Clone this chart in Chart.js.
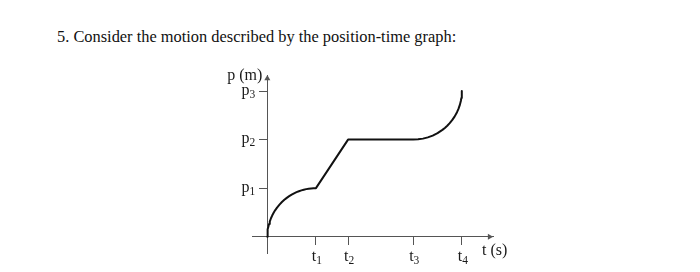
<!DOCTYPE html>
<html>
<head>
<meta charset="utf-8">
<script src="https://cdn.jsdelivr.net/npm/chart.js@4.4.0/dist/chart.umd.min.js"></script>
<style>
  html, body { margin: 0; padding: 0; background: #fff; }
  #wrap { position: relative; width: 700px; height: 272px; }
  #title { position: absolute; left: 57px; top: 27px; font-family: "Liberation Serif", "DejaVu Serif", serif; font-size: 16.4px; color: #111; white-space: nowrap; }
  canvas { position: absolute; left: 0; top: 0; }
</style>
</head>
<body>
<div id="wrap">
  <div id="title">5. Consider the motion described by the position-time graph:</div>
  <canvas id="c" width="700" height="272"></canvas>
</div>
<script>
// ---- data ----
const tTicks  = [1, 1.66, 3, 4];
const tLabels = [['t', '1'], ['t', '2'], ['t', '3'], ['t', '4']];
const pTicks  = [1, 2, 3];
const pLabels = [['p', '1'], ['p', '2'], ['p', '3']];
const xAxisTitle = 't (s)';
const yAxisTitle = 'p (m)';
const timeValues = [0, 0.002, 0.005, 0.012, 0.02, 0.035, 0.05, 0.075, 0.1, 0.13, 0.16, 0.2, 0.25, 0.3, 0.35, 0.4, 0.45, 0.5, 0.55, 0.6, 0.65, 0.7, 0.75, 0.8, 0.85, 0.9, 0.95, 1,
                    1.66,
                    3, 3.1, 3.2, 3.3, 3.4, 3.5, 3.6, 3.65, 3.7, 3.75, 3.8, 3.85, 3.9, 3.93, 3.96, 3.98, 3.99, 3.997, 4];
const positionValues = [0, 0.063, 0.1, 0.154, 0.199, 0.262, 0.312, 0.38, 0.436, 0.493, 0.543, 0.6, 0.661, 0.714, 0.76, 0.8, 0.835, 0.866, 0.893, 0.917, 0.937, 0.954, 0.968, 0.98, 0.989, 0.995, 0.999, 1,
                        2,
                        2, 2.005, 2.02, 2.046, 2.083, 2.134, 2.2, 2.24, 2.286, 2.339, 2.4, 2.473, 2.564, 2.632, 2.72, 2.801, 2.859, 2.923, 3];
const tRange = [-0.315, 4.64];
const pRange = [-0.335, 3.33];
// --------------------------------------

const SERIF = '"Liberation Serif", "DejaVu Serif", serif';
const AXIS_COLOR = '#555';
const TEXT_COLOR = '#1a1a1a';

const curve = timeValues.map((t, i) => ({ x: t, y: positionValues[i] }));

function drawSubLabel(ctx, parts, x, baseline, align) {
  const bigFont = '16px ' + SERIF, smallFont = '11.5px ' + SERIF;
  ctx.font = bigFont;
  const wl = ctx.measureText(parts[0]).width;
  ctx.font = smallFont;
  const wd = ctx.measureText(parts[1]).width;
  const total = wl + wd;
  const start = align === 'center' ? x - total / 2 : x - total;
  ctx.textAlign = 'left';
  ctx.textBaseline = 'alphabetic';
  ctx.font = bigFont;
  ctx.fillText(parts[0], start, baseline);
  ctx.font = smallFont;
  ctx.fillText(parts[1], start + wl, baseline + 3);
}

const axisText = {
  id: 'axisText',
  afterDraw(chart) {
    const { ctx, scales: { x, y } } = chart;
    const x0 = x.getPixelForValue(0), y0 = y.getPixelForValue(0);
    ctx.save();
    ctx.fillStyle = TEXT_COLOR;
    // tick labels with subscripts, placed from the scales' own ticks
    x.ticks.forEach((tk) => {
      const i = tTicks.indexOf(tk.value);
      if (i >= 0) drawSubLabel(ctx, tLabels[i], x.getPixelForValue(tk.value) + 1, y0 + 24, 'center');
    });
    y.ticks.forEach((tk) => {
      const i = pTicks.indexOf(tk.value);
      if (i >= 0) drawSubLabel(ctx, pLabels[i], x0 - 12, y.getPixelForValue(tk.value) + 3.5, 'right');
    });
    // axis titles
    ctx.font = '16px ' + SERIF;
    ctx.textBaseline = 'middle';
    ctx.textAlign = 'right';
    ctx.fillText(yAxisTitle, x0 - 5, y.getPixelForValue(pRange[1]) + 1);
    ctx.textAlign = 'left';
    ctx.fillText(xAxisTitle, x.getPixelForValue(tRange[1]) - 11, y0 + 14);
    ctx.restore();
  }
};

new Chart(document.getElementById('c'), {
  type: 'scatter',
  data: {
    datasets: [
      {
        data: curve,
        showLine: true,
        borderColor: '#111',
        borderWidth: 2,
        pointRadius: 0,
        tension: 0,
        borderJoinStyle: 'round',
        borderCapStyle: 'round'
      },
      {
        data: [{ x: tRange[1] - 0.07, y: 0 }],
        pointStyle: 'triangle',
        rotation: 90,
        pointRadius: 3.5,
        backgroundColor: AXIS_COLOR,
        borderColor: AXIS_COLOR,
        borderWidth: 0,
        clip: false
      },
      {
        data: [{ x: 0, y: pRange[1] - 0.07 }],
        pointStyle: 'triangle',
        rotation: 0,
        pointRadius: 3.5,
        backgroundColor: AXIS_COLOR,
        borderColor: AXIS_COLOR,
        borderWidth: 0,
        clip: false
      }
    ]
  },
  options: {
    responsive: false,
    animation: false,
    events: [],
    layout: { padding: { left: 252, right: 207, top: 75, bottom: 19 } },
    plugins: { legend: { display: false }, tooltip: { enabled: false }, title: { display: false } },
    scales: {
      x: {
        type: 'linear',
        min: tRange[0], max: tRange[1],
        position: { y: 0 },
        afterFit(s) { s.height = 0; },
        afterBuildTicks(s) { s.ticks = tTicks.map(v => ({ value: v })); },
        border: { display: true, color: AXIS_COLOR, width: 1 },
        grid: { drawOnChartArea: false, drawTicks: true, tickLength: 8, color: AXIS_COLOR },
        ticks: { display: false, autoSkip: false }
      },
      y: {
        type: 'linear',
        min: pRange[0], max: pRange[1],
        position: { x: 0 },
        afterFit(s) { s.width = 0; },
        afterBuildTicks(s) { s.ticks = pTicks.map(v => ({ value: v })); },
        border: { display: true, color: AXIS_COLOR, width: 1 },
        grid: { drawOnChartArea: false, drawTicks: true, tickLength: 8, color: AXIS_COLOR },
        ticks: { display: false, autoSkip: false }
      }
    }
  },
  plugins: [axisText]
});
</script>
</body>
</html>
